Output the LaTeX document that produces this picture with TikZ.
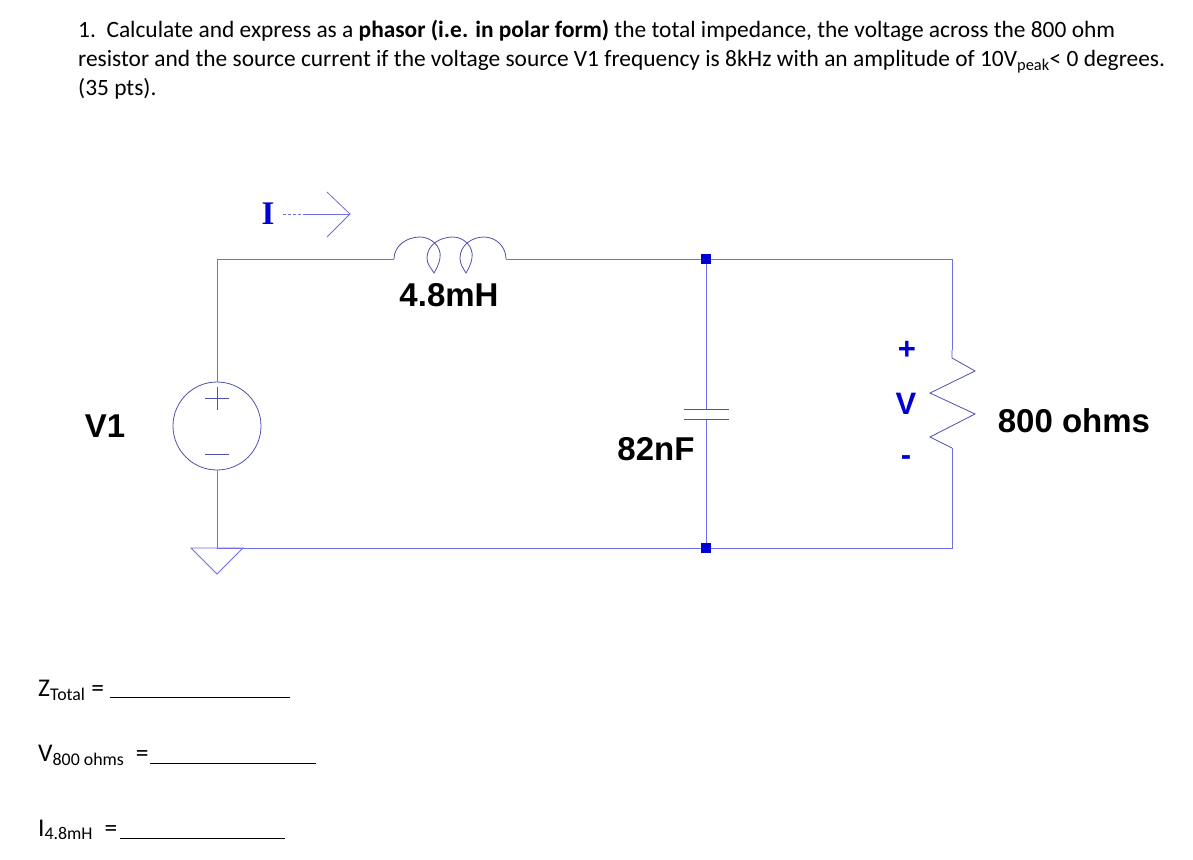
\documentclass[tikz,border=0pt]{standalone}
\usepackage{fontspec}
\setmainfont{Carlito}
\newfontfamily\arl{Liberation Sans}
\newfontfamily\tms{Liberation Serif}
\begin{document}
\begin{tikzpicture}[x=1pt,y=-1pt,
  wire/.style={draw=wblue,line width=0.9pt},
  comp/.style={draw=cblue,line width=0.8pt},
  lbl/.style={font=\arl\bfseries\fontsize{33}{38}\selectfont,inner sep=0},
  blbl/.style={font=\arl\bfseries\fontsize{31}{36}\selectfont,text=vblue,inner sep=0},
  txt/.style={font=\fontsize{23.4}{29}\selectfont,anchor=north west,inner sep=0,align=left},
  ans/.style={font=\fontsize{25.5}{30}\selectfont,anchor=west,inner sep=0},
  dot/.style={fill=vblue,minimum size=10pt,inner sep=0,draw=none,rectangle}]
\definecolor{wblue}{RGB}{110,110,235}
\definecolor{cblue}{RGB}{80,80,170}
\definecolor{vblue}{RGB}{0,0,210}
\useasboundingbox[fill=white] (0,0) rectangle (1193,859);
\node[txt] (h) at (78,20) {1.\ \ Calculate and express as a \textbf{phasor (i.e. in polar form)} the total impedance, the voltage across the 800 ohm\\resistor and the source current if the voltage source V1 frequency is 8kHz with an amplitude of 10V\textsubscript{peak}< 0 degrees.\\(35 pts).};
% coordinates
\coordinate (tl) at (217,259);
\coordinate (bl) at (217,548);
\coordinate (li) at (394,259);
\coordinate (lo) at (506,259);
\node[dot] (nt) at (706,259) {};
\node[dot] (nb) at (706,548) {};
\coordinate (tr) at (952,259);
\coordinate (br) at (952,548);
\coordinate (rt) at (952,350);
\coordinate (rb) at (952,448);
\coordinate (ct) at (706,409);
\coordinate (cb) at (706,419);
\node[circle,comp,minimum size=88pt,inner sep=0] (v1) at (217,426) {};
% wires
\draw[wire] (v1.north) -- (tl) -- (li);
\draw[wire] (lo) -- (nt) -- (tr) -- (rt);
\draw[wire] (rb) -- (br) -- (nb) -- (bl) -- (v1.south);
\draw[wire] (nt) -- (ct);
\draw[wire] (cb) -- (nb);
% source signs
\draw[comp] (205,398) -- (229,398) (217,387) -- (217,410);
\draw[comp] (205,454) -- (229,454);
% ground
\draw[wire] (191,548) -- (243,548) -- (217,574) -- cycle;
% inductor
\draw[comp] (li) to[out=90,in=180] (420,237) to[out=0,in=80] (440,258) to[out=-100,in=60] (434,273) to[out=120,in=-90] (427,258) to[out=90,in=180] (453,237) to[out=0,in=80] (472,258) to[out=-100,in=60] (466,273) to[out=120,in=-90] (460,258) to[out=90,in=180] (484,237) to[out=0,in=90] (lo);
% capacitor
\draw[comp] (684,409) -- (729,409) (684,419) -- (729,419);
% resistor
\draw[comp] (rt) -- (952,358) -- (975,371) -- (930,393) -- (975,414) -- (930,437) -- (952,448) -- (rb);
% current arrow
\node[font=\tms\bfseries\fontsize{33}{36}\selectfont,text=vblue,inner sep=0] (I) at (268,214) {I};
\coordinate (ah) at (350,214);
\draw[wblue,densely dashed,line width=0.7pt] (283,214) -- (305,214);
\draw[wblue,line width=0.8pt] (305,214) -- (ah);
\draw[wblue,line width=0.8pt] (327,192) -- (ah) -- (327,237);
% labels
\node[lbl] at (449,295) {4.8mH};
\node[lbl] at (105,426) {V1};
\node[lbl] at (656,449) {82nF};
\node[lbl] at (1074,421) {800 ohms};
\node[blbl] at (907,350) {+};
\node[blbl] at (906,404) {V};
\node[blbl] at (906,461) {-};
% answers
\node[ans] (z) at (38,690) {Z\textsubscript{Total} =};
\draw (110,697) -- (290,697);
\node[ans] (v) at (38,755) {V\textsubscript{800 ohms}\ \ =};
\draw (150,763) -- (316,763);
\node[ans] (i) at (38,830) {I\textsubscript{4.8mH}\ \ =};
\draw (120,838) -- (285,838);
\end{tikzpicture}
\end{document}
